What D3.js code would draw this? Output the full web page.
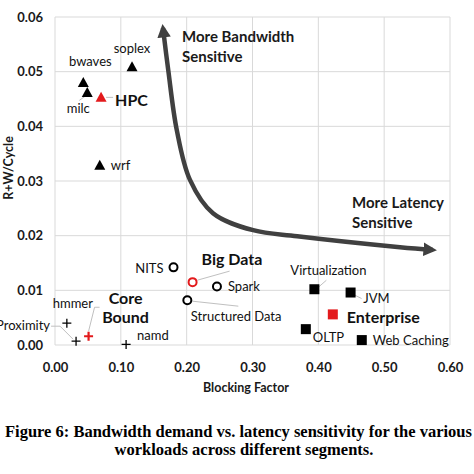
<!DOCTYPE html>
<html>
<head>
<meta charset="utf-8">
<script src="https://cdn.jsdelivr.net/npm/d3@7"></script>
<style>
body{margin:0;background:#fff;}
text{font-family:Lato,"Open Sans",sans-serif;}
text.cap{font-family:"Liberation Serif","Times New Roman",serif;}
</style>
</head>
<body>
<div id="chart"></div>
<script>
// data: [name, blocking factor, R+W/cycle]
var hpc = [["bwaves",0.043,0.0480],["milc",0.049,0.0462],["soplex",0.117,0.0509],["wrf",0.068,0.0329]];
var bigData = [["NITS",0.180,0.0142],["Spark",0.246,0.0107],["Structured Data",0.201,0.0082]];
var coreBound = [["hmmer",0.018,0.0040],["Proximity",0.032,0.0007],["namd",0.108,0.0001]];
var enterprise = [["Virtualization",0.394,0.0102],["JVM",0.449,0.0096],["OLTP",0.381,0.0029],["Web Caching",0.466,0.0009]];
// segment averages (red)
var segments = [["HPC",0.070,0.0453,"tri"],["Big Data",0.209,0.0115,"circle"],["Core Bound",0.051,0.0016,"plus"],["Enterprise",0.422,0.0056,"square"]];
var xTicks = [0,0.1,0.2,0.3,0.4,0.5,0.6];
var yTicks = [0,0.01,0.02,0.03,0.04,0.05,0.06];
// the big annotation arrow, in data units
var arrowPts = [[0.164,0.0580],[0.172,0.0503],[0.185,0.0393],[0.205,0.0302],[0.240,0.0241],[0.301,0.0210],[0.368,0.0199],[0.524,0.0179],[0.574,0.0174]];

// label placement (pixel offsets from the point), leader lines
var lab = {
  "bwaves":{dx:7,dy:-17,a:"middle"},
  "milc":{dx:-9,dy:21,a:"middle",lead:[[-8,8],[-1,3]]},
  "soplex":{dx:0,dy:-14,a:"middle"},
  "wrf":{dx:11,dy:4.5,a:"start"},
  "NITS":{dx:-10,dy:5.5,a:"end"},
  "Spark":{dx:11,dy:4.5,a:"start"},
  "Structured Data":{dx:3.5,dy:21,a:"start",lead:[[5,1],[51,6]]},
  "hmmer":{dx:6,dy:-15,a:"middle"},
  "Proximity":{dx:-26,dy:-11,a:"end",lead:[[-25,-15],[-16,-15],[-3,-2]]},
  "namd":{dx:11,dy:-4,a:"start"},
  "Virtualization":{dx:14,dy:-14,a:"middle",lead:[[12,-9],[4,-2]]},
  "JVM":{dx:12.7,dy:10,a:"start",lead:[[3,2],[11,6]]},
  "OLTP":{dx:7,dy:12.4,a:"start"},
  "Web Caching":{dx:11,dy:4.7,a:"start"},
  "HPC":{dx:14,dy:8.7,a:"start",lead:[[5,0],[12,0]]},
  "Big Data":{dx:9,dy:-17,a:"start",lead:[[5,-2],[37,-11]]},
  "Core Bound":{dx:37,dy:-32,a:"middle",lead:[[11,-29],[6,-29],[0,-5]]},
  "Enterprise":{dx:14,dy:9,a:"start"}
};

var W=474,H=474;
var svg=d3.select('#chart').append('svg').attr('width',W).attr('height',H);
var x=d3.scaleLinear().domain([0,0.6]).range([55,450]);
var y=d3.scaleLinear().domain([0,0.06]).range([345,17]);

// grid
svg.append('g').selectAll('line').data(xTicks).enter().append('line')
  .attr('x1',d=>x(d)).attr('x2',d=>x(d)).attr('y1',y(0)).attr('y2',y(0.06))
  .attr('stroke','#d9d9d9').attr('stroke-width',1);
svg.append('g').selectAll('line').data(yTicks).enter().append('line')
  .attr('x1',x(0)).attr('x2',x(0.6)).attr('y1',d=>y(d)).attr('y2',d=>y(d))
  .attr('stroke','#d9d9d9').attr('stroke-width',1);

// axes
var xAxis=svg.append('g').attr('transform','translate(0,'+y(0)+')')
  .call(d3.axisBottom(x).tickValues(xTicks).tickFormat(d3.format('.2f')).tickSize(0).tickPadding(18));
var yAxis=svg.append('g').attr('transform','translate('+x(0)+',0)')
  .call(d3.axisLeft(y).tickValues(yTicks).tickFormat(d3.format('.2f')).tickSize(0).tickPadding(12));
[xAxis,yAxis].forEach(function(a){
  a.select('.domain').remove();
  a.selectAll('text').attr('font-family','Lato,sans-serif').attr('font-size','13px')
    .attr('font-weight','bold').attr('fill','#1a1a1a');
});

svg.append('text').attr('x',246).attr('y',392).attr('text-anchor','middle')
  .attr('font-size','12.5px').attr('font-weight','bold').attr('fill','#1a1a1a').text('Blocking Factor');
svg.append('text').attr('transform','translate(13,168) rotate(-90)').attr('text-anchor','middle')
  .attr('font-size','12.5px').attr('font-weight','bold').attr('fill','#1a1a1a').text('R+W/Cycle');

// big arrow
var defs=svg.append('defs');
defs.append('marker').attr('id','ah').attr('viewBox','0 0 10 10').attr('refX',7).attr('refY',5)
  .attr('markerWidth',3).attr('markerHeight',3).attr('orient','auto-start-reverse')
  .append('path').attr('d','M0,0 L10,5 L0,10 z').attr('fill','#404040');
svg.append('path')
  .attr('d',d3.line().x(d=>x(d[0])).y(d=>y(d[1])).curve(d3.curveCatmullRom)(arrowPts))
  .attr('fill','none').attr('stroke','#404040').attr('stroke-width',4.5)
  .attr('marker-start','url(#ah)').attr('marker-end','url(#ah)');

svg.append('text').attr('x',182).attr('y',42).attr('font-size','15px').attr('font-weight','bold')
  .attr('fill','#1a1a1a').text('More Bandwidth');
svg.append('text').attr('x',182).attr('y',62).attr('font-size','15px').attr('font-weight','bold')
  .attr('fill','#1a1a1a').text('Sensitive');
svg.append('text').attr('x',352).attr('y',208).attr('font-size','15px').attr('font-weight','bold')
  .attr('fill','#1a1a1a').text('More Latency');
svg.append('text').attr('x',352).attr('y',228).attr('font-size','15px').attr('font-weight','bold')
  .attr('fill','#1a1a1a').text('Sensitive');

// leader lines
function leaders(data){
  var g=svg.append('g');
  data.forEach(function(d){
    var l=lab[d[0]];
    if(!l.lead) return;
    g.append('polyline')
      .attr('points',l.lead.map(p=>(x(d[1])+p[0])+','+(y(d[2])+p[1])).join(' '))
      .attr('fill','none').attr('stroke','#c0c0c0').attr('stroke-width',1);
  });
}
[hpc,bigData,coreBound,enterprise,segments].forEach(leaders);

// markers
function drawMarks(data,shape,color){
  var g=svg.append('g');
  data.forEach(function(d){
    var cx=x(d[1]),cy=y(d[2]);
    if(shape==='tri'){
      g.append('path').attr('d','M'+cx+','+(cy-5.5)+' L'+(cx+5.5)+','+(cy+4.5)+' L'+(cx-5.5)+','+(cy+4.5)+' Z')
        .attr('fill',color);
    } else if(shape==='circle'){
      g.append('circle').attr('cx',cx).attr('cy',cy).attr('r',4).attr('fill','#fff')
        .attr('stroke',color).attr('stroke-width',2);
    } else if(shape==='square'){
      g.append('rect').attr('x',cx-5).attr('y',cy-5).attr('width',10).attr('height',10).attr('fill',color);
    } else {
      g.append('path').attr('d','M'+(cx-4.5)+','+cy+' H'+(cx+4.5)+' M'+cx+','+(cy-4.5)+' V'+(cy+4.5))
        .attr('stroke',color).attr('stroke-width',color==='#000'?1.3:2.2);
    }
  });
}
drawMarks(hpc,'tri','#000');
drawMarks(bigData,'circle','#000');
drawMarks(coreBound,'plus','#000');
drawMarks(enterprise,'square','#000');
segments.forEach(function(s){ drawMarks([s],s[3],'#e31a1c'); });

// labels
function labels(data,big){
  var g=svg.append('g');
  data.forEach(function(d){
    var l=lab[d[0]];
    var words=big&&d[0]==='Core Bound'?['Core','Bound']:[d[0]];
    words.forEach(function(w,i){
      g.append('text').attr('x',x(d[1])+l.dx).attr('y',y(d[2])+l.dy+i*19)
        .attr('text-anchor',l.a).attr('font-size',big?'16px':'13px')
        .attr('font-weight',big?'bold':'normal').attr('fill','#111').text(w);
    });
  });
}
labels(hpc,false);labels(bigData,false);labels(coreBound,false);labels(enterprise,false);
labels(segments,true);

// caption
svg.append('text').attr('class','cap').attr('x',5).attr('y',437)
  .attr('font-size','16.5px').attr('font-weight','bold').attr('fill','#000')
  .text('Figure 6: Bandwidth demand vs. latency sensitivity for the various');
svg.append('text').attr('class','cap').attr('x',244).attr('y',455).attr('text-anchor','middle')
  .attr('font-size','16.5px').attr('font-weight','bold').attr('fill','#000')
  .text('workloads across different segments.');
</script>
</body>
</html>
